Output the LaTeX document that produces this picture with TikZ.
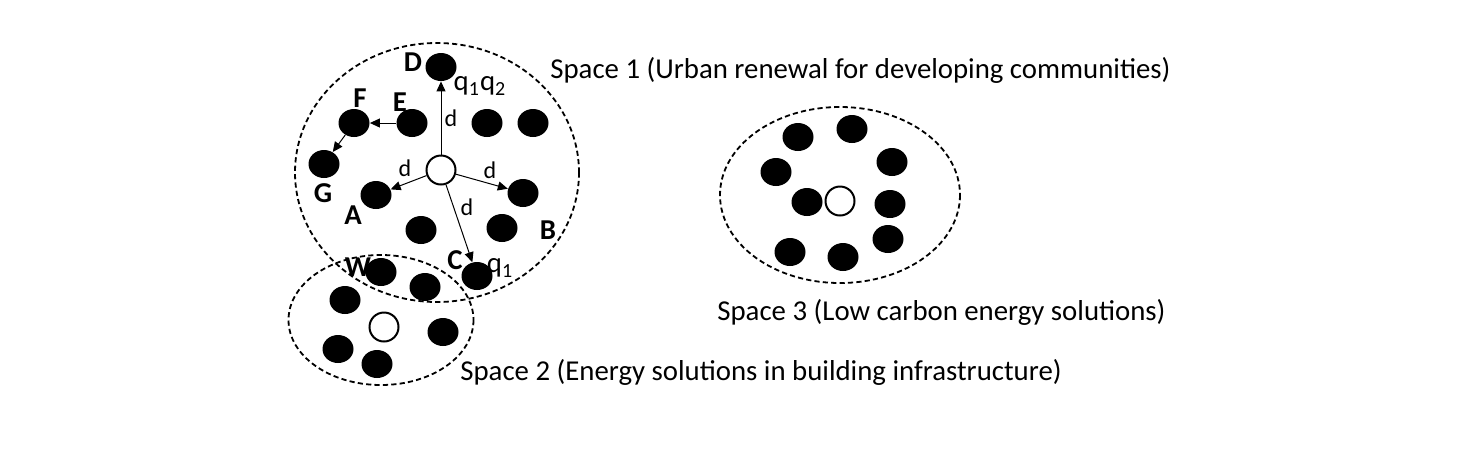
\documentclass[tikz,border=0pt]{standalone}
\usepackage{fontspec}
\setmainfont{Carlito}
\usetikzlibrary{arrows.meta,shapes.geometric}

\tikzset{
  agent/.style={ellipse, fill=black, inner sep=0pt, minimum width=15.5pt, minimum height=14pt},
  seed/.style={circle, draw=black, fill=white, line width=1pt, inner sep=0pt, minimum size=14.5pt},
  space/.style={draw, dash pattern=on 2.6pt off 1.6pt, line width=0.9pt},
  link/.style={-{Triangle[length=5pt,width=4.5pt]}, line width=0.5pt},
  tag/.style={font=\fontsize{14.4}{17}\selectfont\bfseries, inner sep=0pt},
  dist/.style={font=\fontsize{12}{14}\selectfont, inner sep=0pt},
  qual/.style={font=\fontsize{14.4}{17}\selectfont, inner sep=0pt},
  caption/.style={font=\fontsize{14.4}{17}\selectfont, inner sep=0pt, anchor=base west},
}

\begin{document}
\begin{tikzpicture}[x=0.5pt, y=-0.5pt]
      \useasboundingbox (0,0) rectangle (1478,473);

      % the three spaces
      \draw[space] (437,172.5) ellipse [x radius=142, y radius=129.5];
      \draw[space] (381,320) ellipse [x radius=92.5, y radius=65];
      \draw[space] (840,195) ellipse [x radius=120, y radius=88];

      % space 1
      \node[seed] (s1) at (441,170) {};
      \node[agent] (D) at (441,67) {};
      \node[agent] (E) at (412,123) {};
      \node[agent] (F) at (354,123) {};
      \node[agent] (G) at (324,164) {};
      \node[agent] (A) at (376,195) {};
      \node[agent] (B) at (523,193) {};
      \node[agent] (C) at (477,276) {};
      \node[agent] (W) at (381,272) {};
      \foreach \p [count=\i] in {(487,123),(533,123),(421,230),(502,228),(425,287)}
        \node[agent] (a\i) at \p {};

      \draw[link] (s1) -- (D);
      \draw[link] (s1) -- (A);
      \draw[link] (s1) -- (B);
      \draw[link] (s1) -- (C);
      \draw[link] (E) -- (F);
      \draw[link] (F) -- (G);

      \node[tag] (lD) at (413,62) {D};
      \node[tag] (lE) at (400,102) {E};
      \node[tag] (lF) at (360,98) {F};
      \node[tag] (lG) at (323,193) {G};
      \node[tag] (lA) at (353,215) {A};
      \node[tag] (lB) at (548,230) {B};
      \node[tag] (lC) at (455,260) {C};
      \node[tag] (lW) at (358,267) {W};

      \node[dist] (dD) at (451,118) {d};
      \node[dist] (dA) at (405,168) {d};
      \node[dist] (dB) at (490,170) {d};
      \node[dist] (dC) at (467,207) {d};

      \node[qual] (qD) at (480,86) {q\textsubscript{1}q\textsubscript{2}};
      \node[qual] (qC) at (500,268) {q\textsubscript{1}};

      % space 2
      \node[seed] (s2) at (384,327) {};
      \foreach \p [count=\i] in {(345,300),(443,332),(338,349),(377,364)}
        \node[agent] (b\i) at \p {};

      % space 3
      \node[seed] (s3) at (840,201) {};
      \foreach \p [count=\i] in {(798,137),(852,129),(892,162),(776,172),(807,202),(890,204),(888,239),(790,252),(843,257)}
        \node[agent] (c\i) at \p {};

      \node[caption] (t1) at (550,78) {Space 1 (Urban renewal for developing communities)};
      \node[caption] (t2) at (460,380) {Space 2 (Energy solutions in building infrastructure)};
      \node[caption] (t3) at (717,320) {Space 3 (Low carbon energy solutions)};
\end{tikzpicture}
\end{document}
